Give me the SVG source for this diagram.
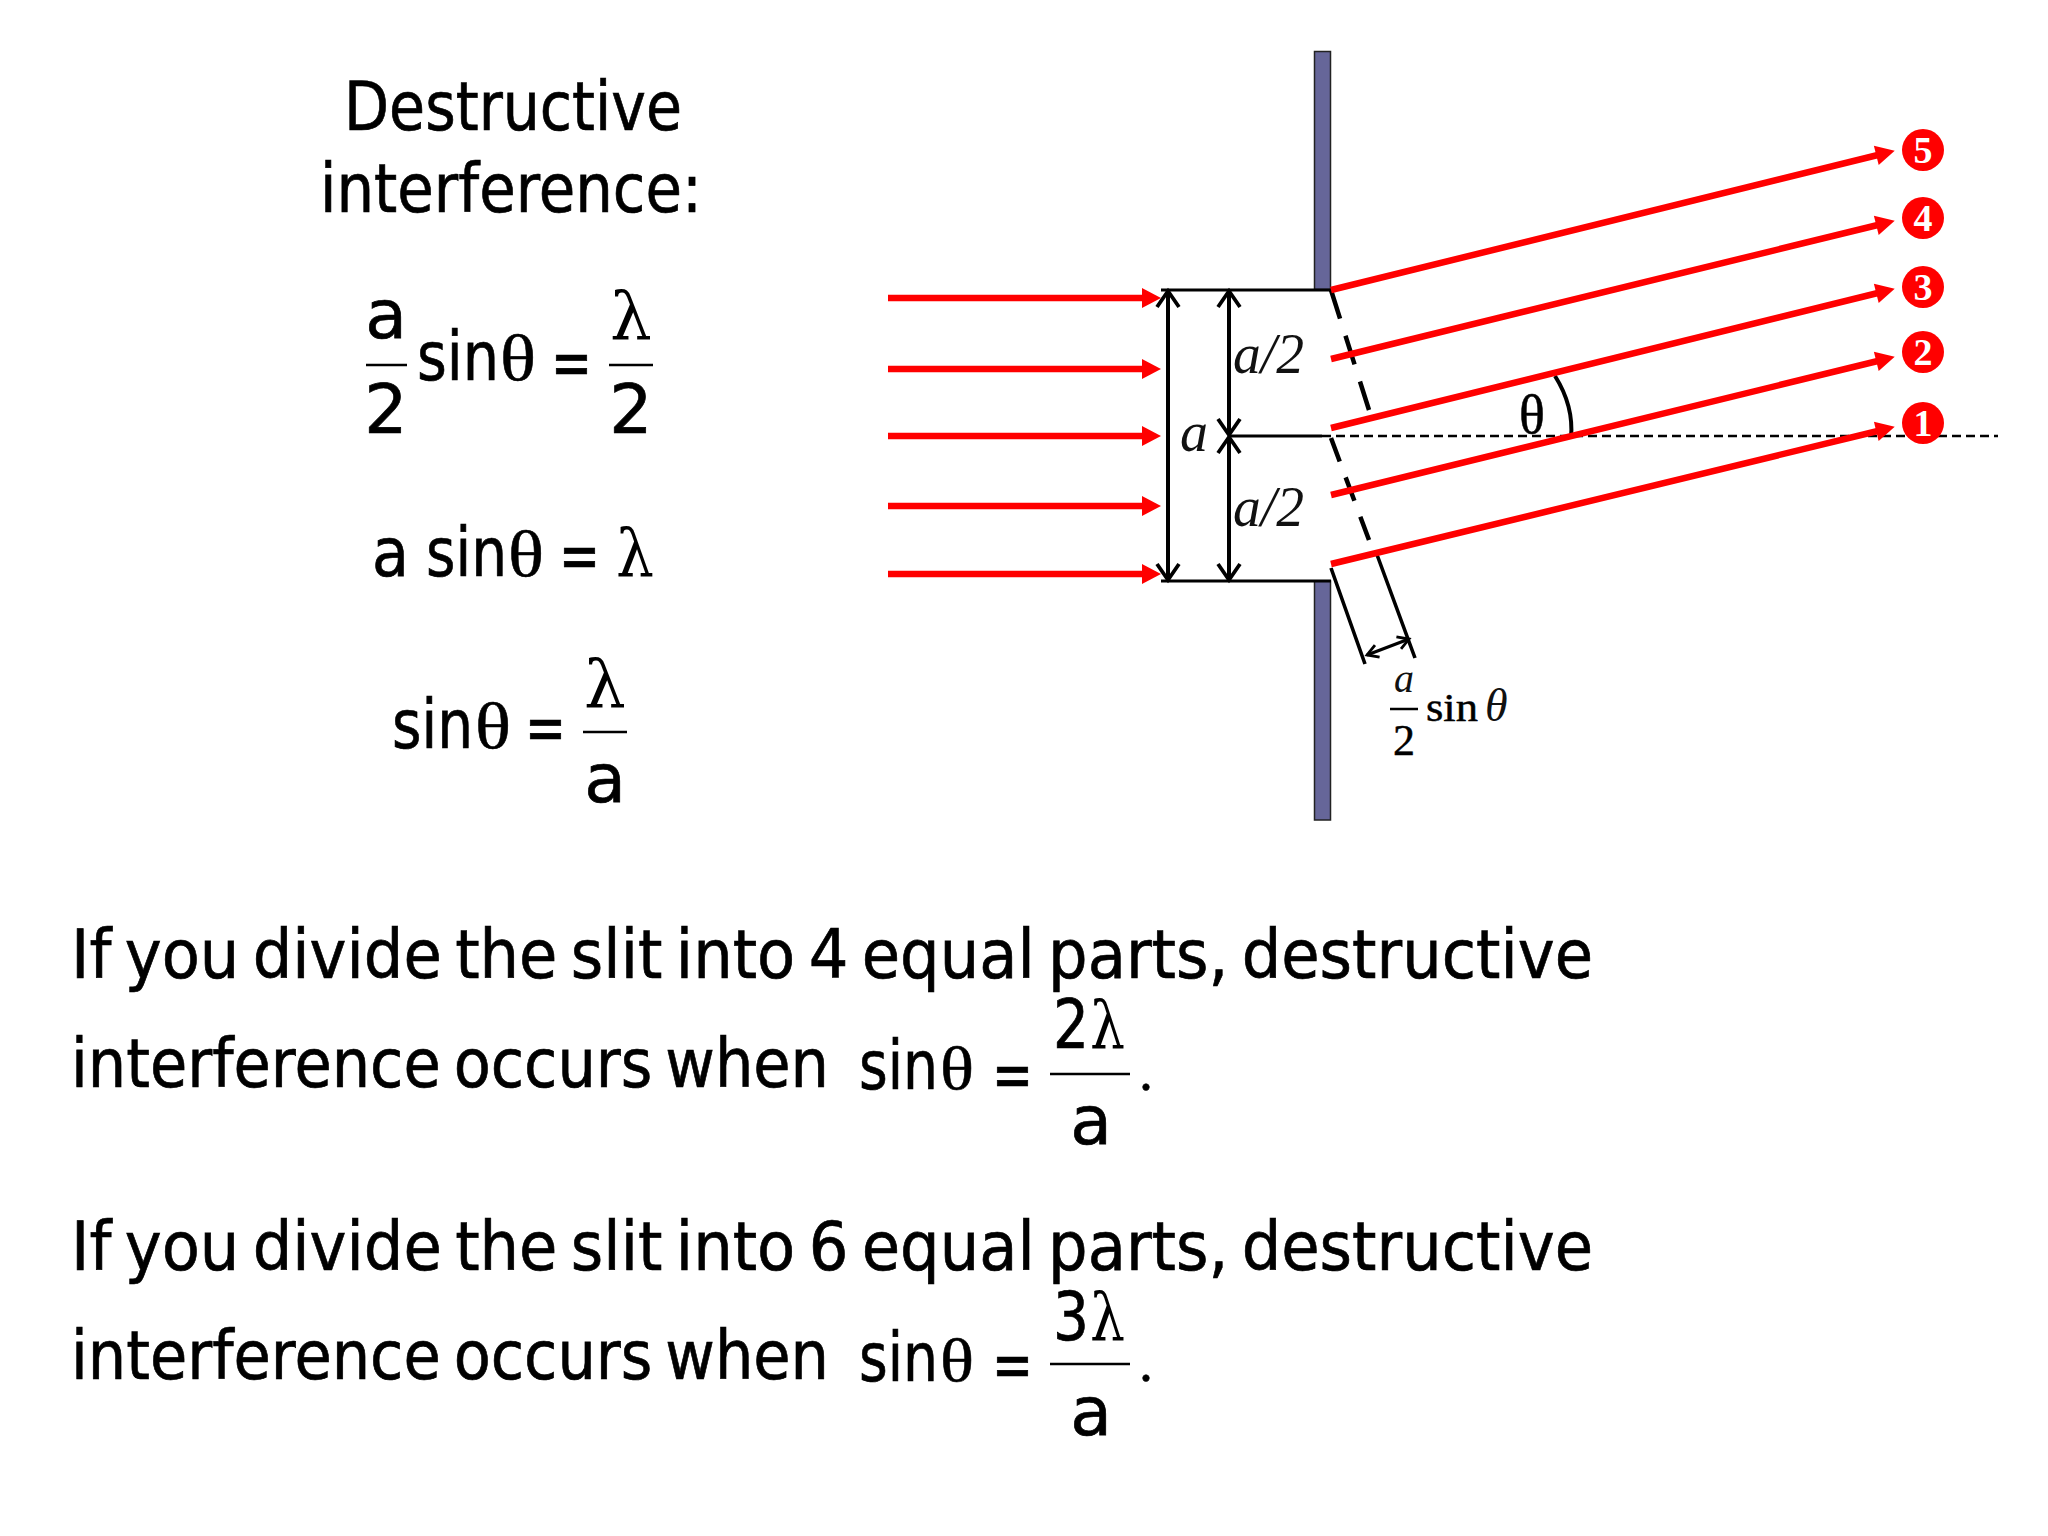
<svg xmlns="http://www.w3.org/2000/svg" width="2048" height="1536" viewBox="0 0 2048 1536">
<style>
.s{font-family:"DejaVu Sans","Liberation Sans",sans-serif;font-size:68px;fill:#000;stroke:#000;stroke-width:.7px;word-spacing:-7px}
.g{font-family:"Liberation Serif","DejaVu Serif",serif;fill:#000;stroke:#000;stroke-width:.5px}
.l{font-family:"DejaVu Serif","Liberation Serif",serif;fill:#000;font-size:66px}
.t{font-family:"Liberation Serif","DejaVu Serif",serif;font-style:italic;fill:#111}
.n{font-family:"Liberation Serif",serif;font-weight:bold;font-size:38px;fill:#fff;text-anchor:middle}
.m{text-anchor:middle}
.r{stroke:#f00;stroke-width:6.5;fill:none;marker-end:url(#ra)}
.k{stroke:#000;stroke-width:3;fill:none}
.d{stroke:#000;stroke-width:4;fill:none;marker-start:url(#ka);marker-end:url(#ka)}
.bar{stroke:#000;stroke-width:2.5}
</style>
<defs>
<marker id="ra" markerUnits="userSpaceOnUse" markerWidth="24" markerHeight="24" refX="11" refY="12" orient="auto"><path d="M1,2L20,12L1,22Z" fill="#f00"/></marker>
<marker id="ka" markerUnits="userSpaceOnUse" markerWidth="28" markerHeight="32" refX="23" refY="16" orient="auto-start-reverse"><path d="M7,5L23,16L7,27" fill="none" stroke="#000" stroke-width="3.8"/></marker>
<marker id="ks" markerUnits="userSpaceOnUse" markerWidth="18" markerHeight="18" refX="15" refY="9" orient="auto-start-reverse"><path d="M4,2.5L15,9L4,15.5" fill="none" stroke="#000" stroke-width="2.8"/></marker>
</defs>
<rect width="2048" height="1536" fill="#fff"/>

<g id="barrier">
<rect x="1314.5" y="51.5" width="16" height="238" fill="#666699" stroke="#222" stroke-width="1.5"/>
<rect x="1314.5" y="581" width="16" height="239" fill="#666699" stroke="#222" stroke-width="1.5"/>
</g>

<g id="connectors">
<path class="k" d="M1161,290H1331M1161,581H1331M1229,436H1322"/>
<path d="M1322,436H1998" stroke="#000" stroke-width="2.4" stroke-dasharray="9 5" fill="none"/>
<path d="M1331,290L1369,410" stroke="#000" stroke-width="4.5" stroke-dasharray="30 18" fill="none"/>
<path d="M1331,438L1369,540" stroke="#000" stroke-width="4.5" stroke-dasharray="25 17" fill="none"/>
<path d="M1331,568L1365,664M1376,552L1415,658" stroke="#000" stroke-width="3.6" fill="none"/>
<path d="M1367,655L1409,639" stroke="#000" stroke-width="3" fill="none" marker-start="url(#ks)" marker-end="url(#ks)"/>
<path d="M1555,376Q1574,406 1571,438" stroke="#000" stroke-width="4" fill="none"/>
<path class="d" d="M1168,291V580"/>
<path class="d" d="M1229,291V435"/>
<path class="d" d="M1229,437V580"/>
<path class="r" d="M888,298H1152"/>
<path class="r" d="M888,369H1152"/>
<path class="r" d="M888,436H1152"/>
<path class="r" d="M888,506H1152"/>
<path class="r" d="M888,574H1152"/>
<path class="r" d="M1331,290L1886,153"/>
<path class="r" d="M1331,359L1886,223"/>
<path class="r" d="M1331,428L1886,291"/>
<path class="r" d="M1331,495L1886,359"/>
<path class="r" d="M1331,564L1886,429"/>
</g>

<g id="ray5"><circle cx="1923" cy="150" r="21" fill="#f00"/><text class="n" x="1923" y="163">5</text></g>
<g id="ray4"><circle cx="1923" cy="218" r="21" fill="#f00"/><text class="n" x="1923" y="231">4</text></g>
<g id="ray3"><circle cx="1923" cy="287" r="21" fill="#f00"/><text class="n" x="1923" y="300">3</text></g>
<g id="ray2"><circle cx="1923" cy="352" r="21" fill="#f00"/><text class="n" x="1923" y="365">2</text></g>
<g id="ray1"><circle cx="1923" cy="423" r="21" fill="#f00"/><text class="n" x="1923" y="436">1</text></g>

<g id="labels">
<text class="t" x="1180" y="451" font-size="56">a</text>
<text class="t" x="1233" y="373" font-size="56" textLength="71" lengthAdjust="spacingAndGlyphs">a/2</text>
<text class="t" x="1233" y="526" font-size="56" textLength="71" lengthAdjust="spacingAndGlyphs">a/2</text>
<text class="g" x="1519" y="433" font-size="54">θ</text>
<text class="t m" x="1404" y="692" font-size="40">a</text>
<line class="bar" x1="1390" y1="709" x2="1418" y2="709"/>
<text class="g m" x="1404" y="755" font-size="44">2</text>
<text class="g" x="1426" y="721" font-size="41" textLength="52" lengthAdjust="spacingAndGlyphs">sin</text>
<text class="t" x="1485" y="721" font-size="46">θ</text>
</g>

<g id="heading">
<text class="s" x="344" y="130" textLength="338" lengthAdjust="spacingAndGlyphs">Destructive</text>
<text class="s" x="320" y="212" textLength="382" lengthAdjust="spacingAndGlyphs">interference:</text>
</g>

<g id="eq1">
<text class="s m" x="386" y="338">a</text>
<line class="bar" x1="366" y1="365" x2="407" y2="365"/>
<text class="s m" x="386" y="433">2</text>
<text class="s" x="417" y="380" textLength="82" lengthAdjust="spacingAndGlyphs">sin</text>
<text class="g" x="500" y="380" font-size="66" textLength="36" lengthAdjust="spacingAndGlyphs">θ</text>
<text class="s" x="551" y="386" textLength="41" lengthAdjust="spacingAndGlyphs">=</text>
<text class="l m" x="631" y="339">λ</text>
<line class="bar" x1="609" y1="365" x2="653" y2="365"/>
<text class="s m" x="631" y="433">2</text>
</g>

<g id="eq2">
<text class="s" x="372" y="576" textLength="37" lengthAdjust="spacingAndGlyphs">a</text>
<text class="s" x="426" y="576" textLength="81" lengthAdjust="spacingAndGlyphs">sin</text>
<text class="g" x="508" y="576" font-size="66" textLength="36" lengthAdjust="spacingAndGlyphs">θ</text>
<text class="s" x="559" y="579" textLength="41" lengthAdjust="spacingAndGlyphs">=</text>
<text class="l" x="616" y="576" textLength="38" lengthAdjust="spacingAndGlyphs">λ</text>
</g>

<g id="eq3">
<text class="s" x="392" y="748" textLength="81" lengthAdjust="spacingAndGlyphs">sin</text>
<text class="g" x="475" y="748" font-size="66" textLength="36" lengthAdjust="spacingAndGlyphs">θ</text>
<text class="s" x="525" y="751" textLength="41" lengthAdjust="spacingAndGlyphs">=</text>
<text class="l m" x="605" y="707">λ</text>
<line class="bar" x1="583" y1="732" x2="627" y2="732"/>
<text class="s m" x="605" y="802">a</text>
</g>

<g id="para1">
<text class="s" x="71" y="978" textLength="1522" lengthAdjust="spacingAndGlyphs">If you divide the slit into 4 equal parts, destructive</text>
<text class="s" x="71" y="1087" textLength="758" lengthAdjust="spacingAndGlyphs">interference occurs when</text>
<text class="s" x="859" y="1089" textLength="79" lengthAdjust="spacingAndGlyphs">sin</text>
<text class="g" x="940" y="1089" font-size="62" textLength="34" lengthAdjust="spacingAndGlyphs">θ</text>
<text class="s" x="992" y="1098" textLength="41" lengthAdjust="spacingAndGlyphs">=</text>
<text class="s" x="1053" y="1048" textLength="36" lengthAdjust="spacingAndGlyphs">2</text>
<text class="l" x="1090" y="1048" textLength="35" lengthAdjust="spacingAndGlyphs">λ</text>
<line class="bar" x1="1050" y1="1074" x2="1130" y2="1074"/>
<text class="s m" x="1091" y="1144">a</text>
<text class="g" x="1139" y="1090" font-size="56">.</text>
</g>

<g id="para2">
<text class="s" x="71" y="1270" textLength="1522" lengthAdjust="spacingAndGlyphs">If you divide the slit into 6 equal parts, destructive</text>
<text class="s" x="71" y="1379" textLength="758" lengthAdjust="spacingAndGlyphs">interference occurs when</text>
<text class="s" x="859" y="1381" textLength="79" lengthAdjust="spacingAndGlyphs">sin</text>
<text class="g" x="940" y="1381" font-size="62" textLength="34" lengthAdjust="spacingAndGlyphs">θ</text>
<text class="s" x="992" y="1388" textLength="41" lengthAdjust="spacingAndGlyphs">=</text>
<text class="s" x="1053" y="1340" textLength="36" lengthAdjust="spacingAndGlyphs">3</text>
<text class="l" x="1090" y="1340" textLength="35" lengthAdjust="spacingAndGlyphs">λ</text>
<line class="bar" x1="1050" y1="1364" x2="1130" y2="1364"/>
<text class="s m" x="1091" y="1435">a</text>
<text class="g" x="1139" y="1381" font-size="56">.</text>
</g>
</svg>
